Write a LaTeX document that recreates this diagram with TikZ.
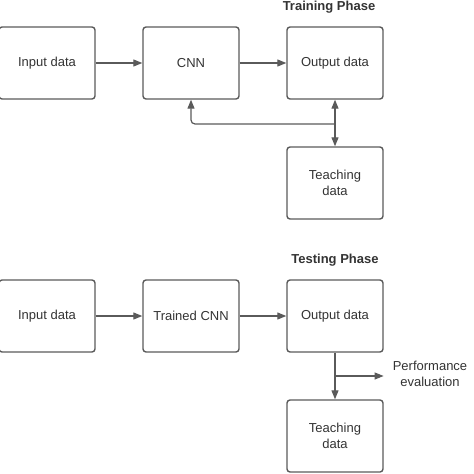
\documentclass[tikz,border=0pt]{standalone}
\usepackage{fontspec}
\setmainfont{Liberation Sans}
\usetikzlibrary{arrows.meta}
\definecolor{linec}{HTML}{5A5A5A}
\definecolor{textc}{HTML}{333333}
\begin{document}
\begin{tikzpicture}[x=1pt,y=-1pt,
  box/.style={draw=linec,line width=1.4pt,rounded corners=3pt,minimum width=96pt,minimum height=72pt,align=center,text=textc,font=\fontsize{13}{16}\selectfont,inner sep=0pt},
  ttl/.style={text=textc,font=\fontsize{13}{16}\selectfont\bfseries,inner sep=0pt},
  lbl/.style={text=textc,font=\fontsize{13}{16}\selectfont,align=center,inner sep=0pt},
  arr/.style={draw=linec,line width=1.2pt,-{Triangle[length=9pt,width=7pt]}},
  darr/.style={draw=linec,line width=1.2pt,{Triangle[length=9pt,width=7pt]}-{Triangle[length=9pt,width=7pt]}}]
\useasboundingbox (0,0) rectangle (474,474);
% Training phase
\node[ttl] (t1) at (329,7) {Training Phase};
\node[box] (in1) at (47,63) {Input data};
\node[box] (cnn1) at (191,63) {CNN};
\node[box] (out1) at (335,63) {Output data};
\node[box] (teach1) at (335,183) {Teaching\\data};
\coordinate (j1) at (335,124);
\draw[arr] (in1) -- (cnn1);
\draw[arr] (cnn1) -- (out1);
\draw[darr] (out1.south) -- (teach1.north);
\draw[arr,rounded corners=4pt] (j1) -| (cnn1.south);
% Testing phase
\node[ttl] (t2) at (335,260) {Testing Phase};
\node[box] (in2) at (47,316) {Input data};
\node[box] (cnn2) at (191,316) {Trained CNN};
\node[box] (out2) at (335,316) {Output data};
\node[box] (teach2) at (335,436) {Teaching\\data};
\node[lbl] (perf) at (430,374) {Performance\\evaluation};
\coordinate (j2) at (335,376);
\draw[arr] (in2) -- (cnn2);
\draw[arr] (cnn2) -- (out2);
\draw[arr] (out2.south) -- (teach2.north);
\draw[arr] (j2) -- ([xshift=-9pt]perf.west |- j2);
\end{tikzpicture}
\end{document}
